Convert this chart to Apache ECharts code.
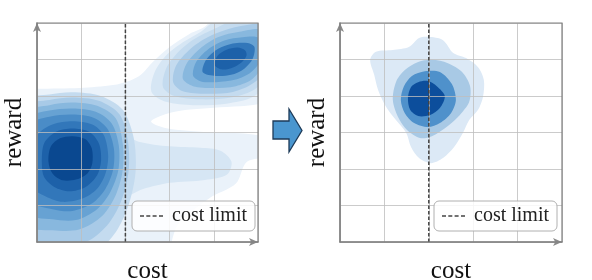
<!DOCTYPE html>
<html>
<head>
<meta charset="utf-8">
<script src="https://cdn.jsdelivr.net/npm/echarts@6/dist/echarts.min.js"></script>
<style>
  html, body { margin: 0; padding: 0; background: #fff; }
  #chart { width: 592px; height: 280px; }
</style>
</head>
<body>
<div id="chart"></div>
<script>
    // axis ranges (no tick labels in the figure, grid step 1)
    const costRange = [0, 5];
    const rewardRange = [0, 6];
    const costLimit = 2;

    // left panel: filled density contours, points are [cost, reward]
    const leftBase = [[-0.5, -0.5], [2.8, -0.5], [3.2, 0.5], [3.9, 1.2], [4.5, 1.6], [4.75, 2.2], [5.5, 2.5], [5.5, 6.5], [4.1, 6.5], [3.83, 5.93], [3.45, 5.7], [3.0, 5.34], [2.62, 4.93], [2.35, 4.58], [2.1, 4.42], [1.72, 4.3], [0.97, 4.22], [0, 4.2], [-0.5, 4.2]];
    const leftGap = [[2.58, 3.3], [2.9, 3.5], [3.4, 3.62], [4.0, 3.68], [4.6, 3.72], [5.5, 3.75], [5.5, 2.95], [4.6, 2.98], [4.0, 3.0], [3.4, 3.05], [2.9, 3.12]];
    const leftBand = [[1.8, 3.0], [2.3, 2.75], [3.0, 2.62], [3.7, 2.58], [4.15, 2.5], [4.4, 2.2], [4.3, 1.85], [3.8, 1.7], [3.0, 1.62], [2.4, 1.45], [1.8, 1.2]];

    const lowRing8 = [[-0.17, 3.89], [0.28, 4.04], [0.8, 4.1], [1.44, 4.0], [1.94, 3.62], [2.19, 2.84], [2.23, 1.92], [2.08, 1.05], [1.78, 0.27], [1.25, -0.37], [0.43, -0.64], [-0.17, -0.82]];
    const lowRing7 = [[-0.17, 3.73], [0.28, 3.89], [0.8, 3.96], [1.4, 3.87], [1.87, 3.49], [2.06, 2.74], [2.07, 1.92], [1.91, 1.14], [1.59, 0.46], [1.1, 0.0], [0.43, -0.05], [-0.17, 0.0]];
    const lowRing6 = [[-0.17, 3.57], [0.28, 3.75], [0.8, 3.82], [1.36, 3.73], [1.78, 3.39], [1.94, 2.7], [1.94, 1.97], [1.78, 1.28], [1.48, 0.72], [0.95, 0.34], [0.35, 0.32], [-0.17, 0.45]];
    const lowRing5 = [[-0.17, 3.39], [0.28, 3.6], [0.8, 3.66], [1.33, 3.57], [1.69, 3.25], [1.85, 2.65], [1.84, 1.97], [1.66, 1.37], [1.36, 0.9], [0.88, 0.6], [0.35, 0.62], [-0.17, 0.8]];
    const lowRing4 = [[-0.17, 3.2], [0.28, 3.43], [0.8, 3.49], [1.29, 3.4], [1.59, 3.11], [1.74, 2.56], [1.72, 1.97], [1.55, 1.46], [1.25, 1.06], [0.8, 0.85], [0.35, 0.9], [-0.17, 1.15]];
    const lowRing3 = [[-0.17, 2.1], [0.01, 2.93], [0.35, 3.22], [0.8, 3.31], [1.25, 3.22], [1.51, 2.93], [1.61, 2.38], [1.55, 1.88], [1.36, 1.46], [1.03, 1.19], [0.58, 1.1], [0.2, 1.25], [-0.17, 1.55]];
    const lowRing2 = [[0.11, 2.15], [0.16, 2.7], [0.43, 3.02], [0.8, 3.11], [1.18, 3.02], [1.4, 2.7], [1.45, 2.24], [1.36, 1.83], [1.1, 1.51], [0.73, 1.39], [0.39, 1.51], [0.16, 1.78]];
    const lowCore = [[0.26, 2.2], [0.31, 2.61], [0.52, 2.84], [0.8, 2.9], [1.09, 2.82], [1.24, 2.56], [1.25, 2.15], [1.14, 1.88], [0.88, 1.71], [0.58, 1.69], [0.35, 1.88]];

    const highRing7 = [[2.59, 4.11], [2.66, 4.65], [2.92, 5.11], [3.3, 5.47], [3.71, 5.76], [4.05, 6.06], [5.18, 6.11], [5.18, 4.38], [4.88, 3.97], [4.28, 3.79], [3.53, 3.75], [2.92, 3.84]];
    const highRing6 = [[2.85, 4.25], [2.92, 4.75], [3.19, 5.2], [3.56, 5.56], [4.02, 5.84], [4.43, 6.06], [5.18, 6.11], [5.18, 4.56], [4.88, 4.15], [4.35, 3.95], [3.68, 3.91], [3.11, 4.0]];
    const highRing5 = [[3.08, 4.38], [3.15, 4.84], [3.45, 5.27], [3.86, 5.61], [4.35, 5.84], [4.88, 5.97], [5.18, 6.02], [5.18, 4.75], [4.88, 4.34], [4.43, 4.11], [3.83, 4.06], [3.3, 4.13]];
    const highRing4 = [[3.3, 4.47], [3.38, 4.88], [3.68, 5.29], [4.09, 5.61], [4.58, 5.76], [5.11, 5.79], [5.14, 4.93], [4.88, 4.47], [4.5, 4.27], [3.98, 4.22], [3.53, 4.27]];
    const highRing3 = [[3.53, 4.56], [3.6, 4.93], [3.86, 5.27], [4.24, 5.52], [4.65, 5.61], [5.03, 5.58], [5.07, 5.02], [4.84, 4.65], [4.5, 4.45], [4.05, 4.38], [3.71, 4.4]];
    const highRing2 = [[3.75, 4.65], [3.83, 5.0], [4.09, 5.29], [4.43, 5.44], [4.77, 5.45], [4.92, 5.34], [4.88, 5.02], [4.69, 4.75], [4.39, 4.58], [4.05, 4.55]];
    const highCore = [[4.02, 4.85], [4.09, 5.11], [4.29, 5.27], [4.54, 5.33], [4.71, 5.25], [4.74, 5.11], [4.62, 4.91], [4.39, 4.76], [4.17, 4.73]];

    // right panel
    const rightRing1 = [[1.98, 5.62], [2.32, 5.53], [2.55, 5.18], [2.84, 5.04], [3.11, 4.79], [3.24, 4.44], [3.22, 3.97], [3.11, 3.62], [2.91, 3.34], [2.77, 2.99], [2.57, 2.6], [2.32, 2.3], [2.05, 2.16], [1.78, 2.3], [1.6, 2.6], [1.49, 2.99], [1.26, 3.34], [1.04, 3.7], [0.86, 4.16], [0.77, 4.58], [0.68, 4.99], [0.81, 5.21], [1.19, 5.26], [1.55, 5.34], [1.78, 5.59]];
    const rightRing2 = [[1.19, 3.89], [1.26, 4.38], [1.46, 4.71], [1.76, 4.93], [2.07, 4.99], [2.43, 4.9], [2.75, 4.66], [2.93, 4.27], [2.91, 3.84], [2.7, 3.48], [2.43, 3.18], [2.07, 2.9], [1.8, 2.85], [1.51, 3.07], [1.31, 3.42]];
    const rightRing3 = [[1.37, 3.89], [1.44, 4.27], [1.62, 4.55], [1.91, 4.68], [2.25, 4.66], [2.52, 4.33], [2.61, 3.89], [2.5, 3.53], [2.25, 3.26], [1.98, 3.15], [1.67, 3.26], [1.46, 3.53]];
    const rightCore = [[1.53, 3.95], [1.6, 4.25], [1.76, 4.38], [1.98, 4.41], [2.18, 4.27], [2.36, 4.0], [2.25, 3.67], [2.03, 3.48], [1.76, 3.45], [1.58, 3.62]];

    // [path, density level], drawn from low to high
    const leftContours = [
        [leftBase, 1], [leftGap, 0], [leftBand, 2],
        [highRing7, 2],
        [lowRing8, 3], [highRing6, 3],
        [lowRing7, 4], [highRing5, 4],
        [lowRing6, 5], [highRing4, 5],
        [lowRing5, 6], [highRing3, 6],
        [lowRing4, 7],
        [lowRing3, 8], [highRing2, 8],
        [lowRing2, 9], [highCore, 9],
        [lowCore, 10]
    ];
    const rightContours = [[rightRing1, 1], [rightRing2, 2], [rightRing3, 3], [rightCore, 4]];

    const leftColors = ['#ffffff', '#eaf2fa', '#d6e6f4', '#c4dbef', '#a8cae7', '#88b8de', '#67a2d3', '#4a8cc7', '#3277ba', '#1d61a9', '#0a4890'];
    const rightColors = ['#ffffff', '#dce9f6', '#a8c9e5', '#4f91cb', '#0c4e9c'];

    const chart = echarts.init(document.getElementById('chart'));
    window.onresize = function () {
        chart.resize();
    };

    const serif = '"Liberation Serif", "DejaVu Serif", serif';
    const axisGray = '#8a8a8a';
    // four short dashes, same look as the matplotlib legend handle
    const dashIcon = 'path://M0,0h4v1.5h-4z M6.3,0h4v1.5h-4z M12.6,0h4v1.5h-4z M19,0h4v1.5h-4z';

    function makeX(i) {
        return {
            gridIndex: i, type: 'value', min: costRange[0], max: costRange[1], interval: 1,
            z: 3, offset: 7,
            name: 'cost', nameLocation: 'middle', nameGap: 10,
            nameTextStyle: { fontFamily: serif, fontSize: 25, color: '#111' },
            axisLine: { show: true, symbol: ['none', 'arrow'], symbolSize: [6, 9], lineStyle: { color: axisGray, width: 1.5 } },
            axisTick: { show: false },
            axisLabel: { show: false },
            splitLine: { show: true, lineStyle: { color: 'rgba(190,190,190,0.8)', width: 1 } }
        };
    }
    function makeY(i) {
        return {
            gridIndex: i, type: 'value', min: rewardRange[0], max: rewardRange[1], interval: 1,
            z: 3, offset: 6,
            name: 'reward', nameLocation: 'middle', nameGap: 4, nameRotate: 90,
            nameTextStyle: { fontFamily: serif, fontSize: 25, color: '#111' },
            axisLine: { show: true, symbol: ['none', 'arrow'], symbolSize: [6, 9], lineStyle: { color: axisGray, width: 1.5 } },
            axisTick: { show: false },
            axisLabel: { show: false },
            splitLine: { show: true, lineStyle: { color: 'rgba(190,190,190,0.8)', width: 1 } }
        };
    }

    function contourSeries(i, contours, colors) {
        return {
            type: 'custom',
            xAxisIndex: i, yAxisIndex: i,
            clip: true, silent: true, z: 1,
            data: contours.map(function (c) { return c[0][0]; }),
            renderItem: function (params, api) {
                const c = contours[params.dataIndex];
                const pts = c[0].map(function (p) { return api.coord(p); });
                return {
                    type: 'polygon',
                    shape: { points: pts, smooth: 0.3 },
                    style: { fill: colors[c[1]], stroke: null }
                };
            }
        };
    }

    function limitSeries(i) {
        return {
            name: 'cost limit', type: 'line', xAxisIndex: i, yAxisIndex: i,
            data: [[costLimit, rewardRange[0]], [costLimit, rewardRange[1]]],
            symbol: 'none', z: 4, silent: true,
            lineStyle: { color: '#444', width: 1.5, type: [3.5, 2] }
        };
    }

    function legendAt(left) {
        return {
            data: [{ name: 'cost limit', icon: dashIcon }], left: left, top: 201, z: 10,
            padding: [5, 8, 5, 8], itemWidth: 23, itemHeight: 20, symbolKeepAspect: true,
            itemStyle: { color: '#444' },
            backgroundColor: 'rgba(255,255,255,0.85)', borderColor: '#b0b0b0', borderWidth: 1, borderRadius: 5,
            selectedMode: false,
            textStyle: { fontFamily: serif, fontSize: 20, color: '#222', padding: [0, 0, 0, 4] }
        };
    }

    function gridAt(left, width) {
        return {
            left: left, top: 23, width: width, height: 219,
            outerBoundsMode: 'none', containLabel: false,
            show: true, z: 5, backgroundColor: 'transparent', borderColor: '#808080', borderWidth: 1.2
        };
    }

    chart.setOption({
        animation: false,
        grid: [gridAt(37, 221), gridAt(340, 222)],
        xAxis: [makeX(0), makeX(1)],
        yAxis: [makeY(0), makeY(1)],
        legend: [legendAt(132), legendAt(434)],
        series: [
            contourSeries(0, leftContours, leftColors),
            contourSeries(1, rightContours, rightColors),
            limitSeries(0),
            limitSeries(1)
        ],
        graphic: [{
            type: 'polygon', z: 10,
            shape: { points: [[273, 121], [289, 121], [289, 109], [302, 130.5], [289, 152], [289, 139], [273, 139]] },
            style: { fill: '#4a96cf', stroke: '#1d3a58', lineWidth: 1.3 }
        }]
    });
</script>
</body>
</html>
